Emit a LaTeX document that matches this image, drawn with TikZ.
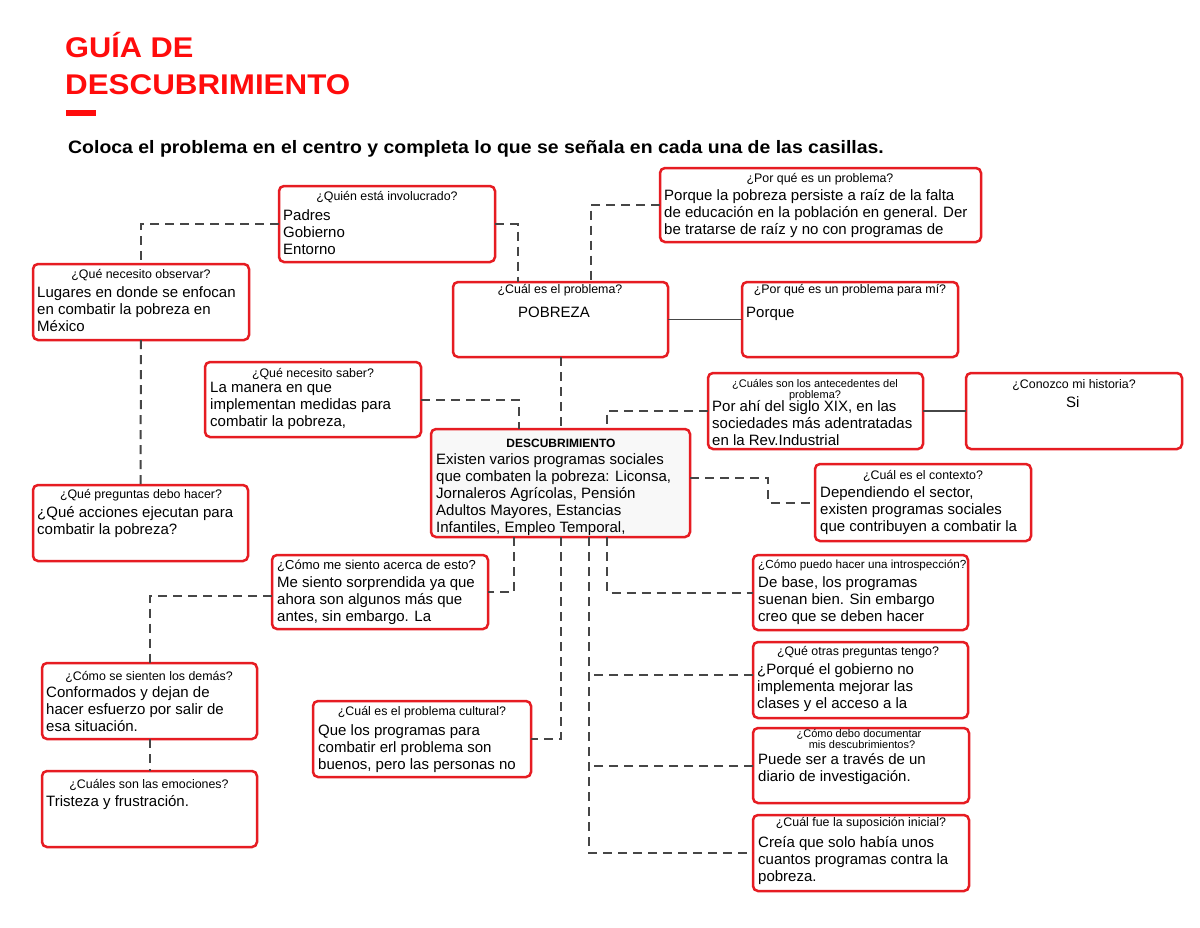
\documentclass[tikz,border=0pt]{standalone}
\usepackage{fontspec}
\setmainfont{Liberation Sans}
\definecolor{boxred}{RGB}{230,28,34}
\definecolor{titred}{RGB}{255,12,12}
\definecolor{lineg}{RGB}{70,70,70}
\definecolor{descfill}{RGB}{248,248,248}
\begin{document}
\begin{tikzpicture}[x=1pt,y=-1pt,
 box/.style={draw=boxred, line width=2.5pt, rounded corners=5pt, fill=white, inner sep=0pt, outer sep=0pt, anchor=north west},
 conn/.style={draw=lineg, line width=2pt, dash pattern=on 9pt off 6pt},
 solidc/.style={draw=lineg, line width=1.8pt},
 qt/.style={font=\fontsize{12.4}{13}\selectfont, inner sep=0pt, anchor=base},
 qs/.style={font=\fontsize{11}{11.5}\selectfont, inner sep=0pt, anchor=base},
 bt/.style={font=\fontsize{15}{17}\selectfont, align=left, inner sep=0pt, anchor=north west, yshift=11.9pt, execute at begin node=\strut},
]
\fill[white] (0,0) rectangle (1200,927);
\useasboundingbox (0,0) rectangle (1200,927);

% title
\node[anchor=base west, inner sep=0pt, text=titred, font=\bfseries\fontsize{28.5}{30}\selectfont] (t1) at (65,57) {\scalebox{1.08}[1]{GUÍA DE}};
\node[anchor=base west, inner sep=0pt, text=titred, font=\bfseries\fontsize{28.5}{30}\selectfont] (t2) at (65,94) {\scalebox{1.1}[1]{DESCUBRIMIENTO}};
\fill[titred] (66,110) rectangle (96,116);
\node[anchor=base west, inner sep=0pt, font=\bfseries\fontsize{18}{20}\selectfont] (sub) at (68,153) {\scalebox{1.08}[1]{Coloca el problema en el centro y completa lo que se señala en cada una de las casillas.}};

% boxes
\node[box, minimum width=216pt, minimum height=76pt] (quien) at (279,186) {};
\node[box, minimum width=216pt, minimum height=76pt] (observa) at (33,264) {};
\node[box, minimum width=321pt, minimum height=74pt] (porque) at (660,168) {};
\node[box, minimum width=215pt, minimum height=75pt] (cual) at (453,282) {};
\node[box, minimum width=216pt, minimum height=75pt] (parami) at (742,282) {};
\node[box, minimum width=216pt, minimum height=75pt] (saber) at (205,362) {};
\node[box, fill=descfill, minimum width=259pt, minimum height=108pt] (desc) at (431,429) {};
\node[box, minimum width=215pt, minimum height=76pt] (antec) at (708,373) {};
\node[box, minimum width=216pt, minimum height=76pt] (conozco) at (966,373) {};
\node[box, minimum width=216pt, minimum height=77pt] (contexto) at (815,464) {};
\node[box, minimum width=215pt, minimum height=76pt] (preguntas) at (33,485) {};
\node[box, minimum width=216pt, minimum height=74pt] (siento) at (272,555) {};
\node[box, minimum width=215pt, minimum height=75pt] (intro) at (753,555) {};
\node[box, minimum width=215pt, minimum height=76pt] (otras) at (753,642) {};
\node[box, minimum width=215pt, minimum height=76pt] (sienten) at (42,663) {};
\node[box, minimum width=218pt, minimum height=76pt] (cultural) at (313,701) {};
\node[box, minimum width=216pt, minimum height=75pt] (document) at (753,728) {};
\node[box, minimum width=215pt, minimum height=76pt] (emociones) at (42,771) {};
\node[box, minimum width=216pt, minimum height=76pt] (supos) at (753,815) {};

% connectors
\coordinate (trunk) at ([xshift=28.5pt]desc.south);
\draw[conn] (quien.west) -| (observa.north);
\draw[conn] (quien.east) -| ([xshift=-43pt]cual.north);
\draw[conn] (porque.west) -| ([xshift=30pt]cual.north);
\draw[solidc] (cual.east) -- (parami.west);
\draw[conn] (saber.east) -| ([xshift=-42pt]desc.north);
\draw[conn] (cual.south) -- (desc.north);
\draw[conn] (antec.west) -| ([xshift=46pt]desc.north);
\draw[solidc] (antec.east) -- (conozco.west);
\draw[conn] ([yshift=5pt]desc.east) -- ++(78,0) |- (contexto.west);
\draw[conn] ([xshift=-46.5pt]desc.south) |- (siento.east);
\draw[conn] ([xshift=46.5pt]desc.south) |- (intro.west);
\draw[conn] (desc.south) |- (cultural.east);
\draw[conn] (trunk) |- (supos.west);
\draw[conn] ([yshift=5pt]otras.west) -- ([yshift=5pt]otras.west -| trunk);
\draw[conn] (document.west) -- (document.west -| trunk);
\draw[conn] ([yshift=-4pt]siento.west) -| (sienten.north);
\draw[conn] (observa.south) -- (preguntas.north);
\draw[conn] (sienten.south) -- (emociones.north);

% texts
\node[qt] (quienq) at (387,200) {¿Quién está involucrado?};
\node[bt] (quienb) at (283,221) {Padres\\Gobierno\\Entorno};

\node[qt] (observaq) at (141,278) {¿Qué necesito observar?};
\node[bt] (observab) at (37,298) {Lugares en donde se enfocan\\en combatir la pobreza en\\México};

\node[qt] (porqueq) at (820,182) {¿Por qué es un problema?};
\node[bt] (porqueb) at (664,201) {Porque la pobreza persiste a raíz de la falta\\de educación en la población en general. Der\\be tratarse de raíz y no con programas de};

\node[qt] (cualq) at (560,293) {¿Cuál es el problema?};
\node[bt] (cualb) at (518,317) {POBREZA};

\node[qt] (pramiq) at (850,293) {¿Por qué es un problema para mí?};
\node[bt] (paramib) at (746,317) {Porque};

\node[qt] (saberq) at (313,377) {¿Qué necesito saber?};
\node[bt] (saberb) at (210,394) {La manera en que\\implementan medidas para\\combatir la pobreza,};

\node[qt, font=\bfseries\fontsize{12}{12.5}\selectfont] (descq) at (561,447) {DESCUBRIMIENTO};
\node[bt] (descb) at (436,465) {Existen varios programas sociales\\que combaten la pobreza: Liconsa,\\Jornaleros Agrícolas, Pensión\\Adultos Mayores, Estancias\\Infantiles, Empleo Temporal,};

\node[qs] (antecq1) at (815,387) {¿Cuáles son los antecedentes del};
\node[qs] (antecq2) at (815,398) {problema?};
\node[bt] (antecb) at (712,412) {Por ahí del siglo XIX, en las\\sociedades más adentratadas\\en la Rev.Industrial};

\node[qt] (conozcoq) at (1074,388) {¿Conozco mi historia?};
\node[bt] (conozcob) at (1066,407) {Si};

\node[qt] (contextoq) at (923,479) {¿Cuál es el contexto?};
\node[bt] (contextob) at (820,498) {Dependiendo el sector,\\existen programas sociales\\que contribuyen a combatir la};

\node[qt] (preguntasq) at (141,498) {¿Qué preguntas debo hacer?};
\node[bt] (preguntasb) at (37,518) {¿Qué acciones ejecutan para\\combatir la pobreza?};

\node[qt, anchor=base west, font=\fontsize{13}{14}\selectfont] (sientoq) at (277,569) {¿Cómo me siento acerca de esto?};
\node[bt] (sientob) at (277,588) {Me siento sorprendida ya que\\ahora son algunos más que\\antes, sin embargo. La};

\node[qt, anchor=base west, font=\fontsize{11.7}{12}\selectfont] (introq) at (758,568) {¿Cómo puedo hacer una introspección?};
\node[bt] (introb) at (758,588) {De base, los programas\\suenan bien. Sin embargo\\creo que se deben hacer};

\node[qt] (otrasq) at (858,655) {¿Qué otras preguntas tengo?};
\node[bt] (otrasb) at (757,675) {¿Porqué el gobierno no\\implementa mejorar las\\clases y el acceso a la};

\node[qt] (sientenq) at (149,680) {¿Cómo se sienten los demás?};
\node[bt] (sientenb) at (46,698) {Conformados y dejan de\\hacer esfuerzo por salir de\\esa situación.};

\node[qt] (culturalq) at (422,715) {¿Cuál es el problema cultural?};
\node[bt] (culturalb) at (318,736) {Que los programas para\\combatir erl problema son\\buenos, pero las personas no};

\node[qs] (documentq1) at (859,737) {¿Cómo debo documentar};
\node[qs] (documentq2) at (862,748) {mis descubrimientos?};
\node[bt] (documentb) at (758,765) {Puede ser a través de un\\diario de investigación.};

\node[qt] (emocionesq) at (149,788) {¿Cuáles son las emociones?};
\node[bt] (emocionesb) at (46,806) {Tristeza y frustración.};

\node[qt] (suposq) at (861,826) {¿Cuál fue la suposición inicial?};
\node[bt] (suposb) at (758,848) {Creía que solo había unos\\cuantos programas contra la\\pobreza.};
\end{tikzpicture}
\end{document}
